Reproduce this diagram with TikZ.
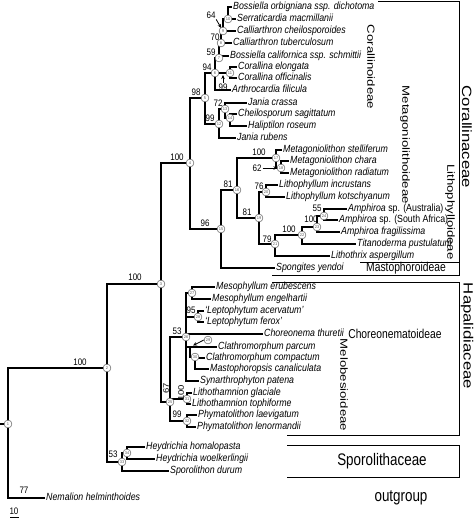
\documentclass[tikz,border=0pt]{standalone}
\usepackage{fontspec}
\setmainfont{Liberation Sans}
\usetikzlibrary{arrows.meta}
\begin{document}
\begin{tikzpicture}[x=1pt,y=-1pt,
  br/.style={draw=black, line width=1.15pt},
  tx/.style={anchor=west, inner xsep=1.5pt, inner ysep=0pt, yscale=1.18, text height=6.3pt, text depth=1.9pt, font=\fontsize{8.8}{10}\selectfont\itshape},
  sv/.style={inner sep=0pt, yscale=1.18, font=\fontsize{8}{9}\selectfont},
  svr/.style={inner sep=0pt, rotate=90, xscale=1.18, font=\fontsize{8}{9}\selectfont},
  nd/.style={circle, draw=black!60, fill=white, line width=0.55pt, minimum size=7.8pt, inner sep=0pt, text=black!65, font=\fontsize{4}{4}\selectfont},
  sub/.style={inner sep=0pt, yscale=1.25, font=\fontsize{10.3}{12}\selectfont},
  subr/.style={inner sep=0pt, rotate=-90, xscale=1.28, font=\fontsize{10.3}{12}\selectfont},
  fam/.style={inner sep=0pt, yscale=1.25, font=\fontsize{13.4}{15}\selectfont},
  famr/.style={inner sep=0pt, rotate=-90, xscale=1.25, font=\fontsize{13.4}{15}\selectfont},
  bx/.style={draw=black, line width=0.8pt},
  ar/.style={-{Stealth[length=4pt,width=3.5pt]}, line width=0.8pt}
]
\useasboundingbox (0,0) rectangle (474,519);

% internal node positions
\coordinate (r0) at (0,424);
\coordinate (n1) at (8,424);
\coordinate (n2) at (107,368);
\coordinate (n3) at (161,284);
\coordinate (n4) at (190,163);
\coordinate (n98) at (205,98);
\coordinate (n94) at (215,73);
\coordinate (n59) at (219,58);
\coordinate (n70) at (221,43);
\coordinate (n64) at (223,31);
\coordinate (nSB) at (228,19);
\coordinate (nCor) at (230,73);
\coordinate (n99J) at (219,124);
\coordinate (n72) at (225,109);
\coordinate (nCH) at (230,118);
\coordinate (n96) at (221,229);
\coordinate (n81a) at (237,190);
\coordinate (nMet) at (276,158);
\coordinate (n62) at (281,168);
\coordinate (n81b) at (259,218);
\coordinate (n76) at (266,192);
\coordinate (n79) at (275,244);
\coordinate (nA) at (302,235);
\coordinate (nAm) at (317,227);
\coordinate (n55) at (324,216);
\coordinate (n67) at (170,402);
\coordinate (n53) at (186,337);
\coordinate (nMes) at (192,293);
\coordinate (nLep) at (198,317);
\coordinate (nCl) at (190,347);
\coordinate (nC2) at (195,357);
\coordinate (nLit) at (187,399);
\coordinate (nPhy) at (187,421);
\coordinate (nS53) at (122,462);
\coordinate (nHey) at (127,453);
\coordinate (k99) at (223,75);
\coordinate (kCl) at (193,345.5);

% taxa
\foreach \n/\x/\y/\t in {
 t1/233/7/{Bossiella orbigniana ssp. dichotoma},
 t2/237/19/{Serraticardia macmillanii},
 t3/237/31/{Calliarthron cheilosporoides},
 t4/233/43/{Calliarthron tuberculosum},
 t5/230/56/{Bossiella californica ssp. schmittii},
 t6/238/67/{Corallina elongata},
 t7/238/78/{Corallina officinalis},
 t8/232/90/{Arthrocardia filicula},
 t9/248/103/{Jania crassa},
 t10/238/114/{Cheilosporum sagittatum},
 t11/248/126/{Haliptilon roseum},
 t12/237/138/{Jania rubens},
 t13/283/150/{Metagoniolithon stelliferum},
 t14/290/161/{Metagoniolithon chara},
 t15/290/173/{Metagoniolithon radiatum},
 t16/279/185/{Lithophyllum incrustans},
 t17/286/197/{Lithophyllum kotschyanum},
 t18/348/209/{Amphiroa\upshape{} sp. (Australia)},
 t19/339/220/{Amphiroa\upshape{} sp. (South Africa)},
 t20/341/232/{Amphiroa fragilissima},
 t21/357/244/{Titanoderma pustulatum},
 t22/331/256/{Lithothrix aspergillum},
 t23/276/268/{Spongites yendoi},
 t24/216/287/{Mesophyllum erubescens},
 t25/212/299/{Mesophyllum engelhartii},
 t26/205/311/{`Leptophytum acervatum'},
 t27/205/322/{`Leptophytum ferox'},
 t28/264/334/{Choreonema thuretii},
 t29/218/347/{Clathromorphum parcum},
 t30/206/358/{Clathromorphum compactum},
 t31/210/369/{Mastophoropsis canaliculata},
 t32/200/381/{Synarthrophyton patena},
 t33/193/393/{Lithothamnion glaciale},
 t34/192/404/{Lithothamnion tophiforme},
 t35/198/415/{Phymatolithon laevigatum},
 t36/197/427/{Phymatolithon lenormandii},
 t37/146/447/{Heydrichia homalopasta},
 t38/156/459/{Heydrichia woelkerlingii},
 t39/170/471/{Sporolithon durum},
 t40/46/498/{Nemalion helminthoides}}
  \node[tx] (\n) at (\x-1.5,\y) {\t};

% branches
\draw[br] (r0) -- (n1);
\foreach \p/\c in {n1/n2, n2/n3, n2/nS53, n3/n4, n3/n67, n4/n98, n4/n96, n98/n94, n98/n99J,
  n94/n59, n94/nCor, n59/n70, n70/n64, n64/nSB, n99J/n72, n72/nCH, n96/n81a, n81a/nMet,
  n81a/n81b, nMet/n62, n81b/n76, n81b/n79, n79/nA, nA/nAm, nAm/n55, n67/n53, n67/nLit,
  n67/nPhy, n53/nMes, n53/nLep, n53/nCl, nCl/nC2, nS53/nHey}
  \draw[br] (\p) |- (\c);
\foreach \p/\c in {n1/t40, nSB/t1, nSB/t2, n64/t3, n70/t4, n59/t5, nCor/t6, nCor/t7, n94/t8,
  n72/t9, nCH/t10, nCH/t11, n99J/t12, nMet/t13, n62/t14, n62/t15, n76/t16, n76/t17, n55/t18,
  n55/t19, nAm/t20, nA/t21, n79/t22, n96/t23, nMes/t24, nMes/t25, nLep/t26, nLep/t27, n53/t28,
  nCl/t29, nC2/t30, nC2/t31, n53/t32, nLit/t33, nLit/t34, nPhy/t35, nPhy/t36, nHey/t37,
  nHey/t38, nS53/t39}
  \draw[br] (\p) |- (\c.west);

% node number circles
\foreach \n/\k in {n1/1, n2/2, n3/3, n4/4, n98/5, n94/6, n59/7, n70/8, n64/9, nSB/10, nCor/11,
  n99J/12, n72/13, nCH/14, n96/15, n81a/16, nMet/17, n62/18, n81b/19, n76/20, n79/21, nA/22,
  nAm/23, n55/24, n67/25, n53/26, nMes/27, nLep/28, nC2/30, nLit/31, nPhy/32, nS53/33, nHey/34}
  \node[nd] (c\k) at (\n) {\k};
\node[nd] (c29) at (208,340) {29};
\draw[ar] (c29.west) -- (kCl);

% support values
\foreach \x/\y/\t [count=\i] in {80/362/100, 135/277/100, 177/157/100, 196/92/98, 207/67/94,
  211/52/59, 215/37/70, 210/118/99, 218/103/72, 205/223/96, 228/184/81, 259/152/100,
  247/212/81, 259/186/76, 267/239/79, 289/229/100, 311/219/100, 317/208/55, 177/331/53,
  191/310/95, 177/414/99, 113/454/53, 24/490/77, 14/511/10}
  \node[sv] (sv\i) at (\x,\y) {\t};
\node[sv] (l64) at (211,15) {64};
\node[sv] (l99) at (223,87) {99};
\node[sv] (l62) at (257,168) {62};
\node[svr] (l67) at (166,388) {67};
\node[svr] (l100) at (181,393) {100};
\draw[ar, shorten <=1pt, shorten >=3.5pt] (l64.south east) -- (n64);
\draw[ar, shorten <=0.5pt] (l99.north) -- (k99);
\draw[ar, shorten <=1pt, shorten >=3.5pt] (l62.east) -- (n62);

% scale bar
\draw[line width=0.8pt] (10,517) -- (19,517);

% group frames
\draw[bx] (378,1) -- (459,1) -- (459,275) -- (272,275);
\draw[bx] (360,262) -- (459,262);
\draw[bx] (272,282) -- (459,282) -- (459,435) -- (287,435);
\draw[bx] (287,445) -- (459,445) -- (459,477) -- (287,477);

% group labels
\node[subr] (lCor) at (371,67) {Corallinoideae};
\node[subr] (lMet) at (405,145) {Metagoniolithoideae};
\node[subr] (lLit) at (450,212) {Lithophylloideae};
\node[famr] (lCo) at (467,137) {Corallinaceae};
\node[sub] (lMas) at (406,268) {Mastophoroideae};
\node[sub] (lCho) at (395,334) {Choreonematoideae};
\node[subr] (lMel) at (344,385) {Melobesioideae};
\node[famr] (lHa) at (467,336) {Hapalidiaceae};
\node[fam] (lSp) at (382,461) {Sporolithaceae};
\node[fam] (lOut) at (401,498) {outgroup};
\end{tikzpicture}
\end{document}
